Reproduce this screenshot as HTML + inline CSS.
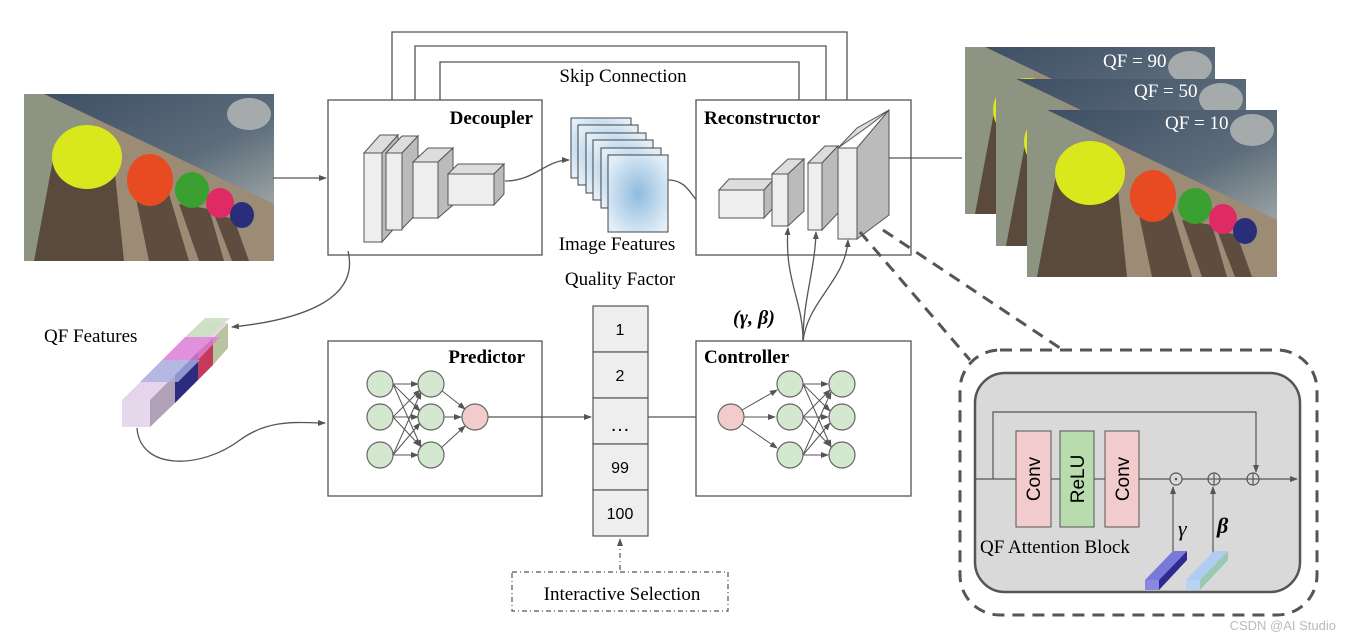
<!DOCTYPE html>
<html><head><meta charset="utf-8"><style>
html,body{margin:0;padding:0;background:#fff;}
svg{display:block;font-family:"Liberation Serif",serif;}
</style></head><body>
<svg width="1351" height="639" viewBox="0 0 1351 639" xmlns="http://www.w3.org/2000/svg">
<defs>
<marker id="ar" markerWidth="8" markerHeight="8" refX="7" refY="4" orient="auto" markerUnits="userSpaceOnUse"><path d="M0,1 L8,4 L0,7 z" fill="#555"/></marker>
<linearGradient id="sky" x1="0" y1="0" x2="1" y2="1"><stop offset="0" stop-color="#3e4f66"/><stop offset="0.6" stop-color="#5d6c7a"/><stop offset="1" stop-color="#9aa4a4"/></linearGradient>
<radialGradient id="fm" cx="0.5" cy="0.5" r="0.6"><stop offset="0" stop-color="#8fbbdd"/><stop offset="1" stop-color="#e2eef8"/></radialGradient>
<clipPath id="pc"><rect x="0" y="0" width="250" height="167"/></clipPath>
<g id="photo" clip-path="url(#pc)">
<rect x="0" y="0" width="250" height="167" fill="#8a8670"/>
<polygon points="20,0 250,0 250,110" fill="url(#sky)"/>
<ellipse cx="225" cy="20" rx="22" ry="16" fill="#b8bcb8" opacity="0.8"/>
<polygon points="0,0 20,0 250,110 250,167 0,167" fill="#9c8c76"/>
<polygon points="0,0 20,0 70,25 30,167 0,167" fill="#8e9482"/>
<polygon points="30,60 90,70 100,167 10,167" fill="#5a4a3c"/>
<polygon points="110,95 145,100 165,167 125,167" fill="#5e4c3e"/>
<polygon points="155,110 185,115 200,167 175,167" fill="#5e4c3e"/>
<polygon points="190,120 210,125 225,167 208,167" fill="#5e4c3e"/>
<ellipse cx="63" cy="63" rx="35" ry="32" fill="#d8e81c"/>
<ellipse cx="126" cy="86" rx="23" ry="26" fill="#e84a22"/>
<ellipse cx="168" cy="96" rx="17" ry="18" fill="#3aa030"/>
<ellipse cx="196" cy="109" rx="14" ry="15" fill="#e02a66"/>
<ellipse cx="218" cy="121" rx="12" ry="13" fill="#2a2e7a"/>
</g>
</defs>

<use href="#photo" x="24" y="94"/>
<line x1="273" y1="178" x2="326" y2="178" stroke="#555" stroke-width="1.3" marker-end="url(#ar)"/>

<g fill="none" stroke="#555" stroke-width="1.3">
<polyline points="392,100 392,32 847,32 847,100"/>
<polyline points="415,100 415,46 826,46 826,100"/>
<polyline points="440,100 440,62 799,62 799,100"/>
</g>
<text x="623" y="82" font-size="19" text-anchor="middle">Skip Connection</text>

<rect x="328" y="100" width="214" height="155" fill="#fff" stroke="#555" stroke-width="1.3"/>
<text x="533" y="124" font-size="19" font-weight="bold" text-anchor="end">Decoupler</text>
<g stroke="#555" stroke-width="1">
<polygon points="364,153 380,135 398,135 382,153" fill="#ddd"/><polygon points="382,153 398,135 398,224 382,242" fill="#bbb"/><rect x="364" y="153" width="18" height="89" fill="#eee"/>
<polygon points="386,153 402,136 418,136 402,153" fill="#ddd"/><polygon points="402,153 418,136 418,212 402,229" fill="#bbb"/><rect x="386" y="153" width="16" height="77" fill="#eee"/>
<polygon points="413,162 428,148 453,148 438,162" fill="#ddd"/><polygon points="438,162 453,148 453,205 438,218" fill="#bbb"/><rect x="413" y="162" width="25" height="56" fill="#eee"/>
<polygon points="448,174 458,164 504,164 494,174" fill="#ddd"/><polygon points="494,174 504,164 504,194 494,205" fill="#bbb"/><rect x="448" y="174" width="46" height="31" fill="#eee"/>
</g>
<path d="M505,181 C535,181 545,160 569,160" fill="none" stroke="#555" stroke-width="1.3" marker-end="url(#ar)"/>

<g stroke="#444" stroke-width="1">
<rect x="571" y="118" width="60" height="60" fill="url(#fm)"/>
<rect x="578" y="125" width="60" height="60" fill="url(#fm)"/>
<rect x="586" y="133" width="60" height="60" fill="url(#fm)"/>
<rect x="593" y="140" width="60" height="60" fill="url(#fm)"/>
<rect x="601" y="148" width="60" height="60" fill="url(#fm)"/>
<rect x="608" y="155" width="60" height="77" fill="url(#fm)"/>
</g>
<text x="617" y="250" font-size="19" text-anchor="middle">Image Features</text>
<text x="620" y="285" font-size="19" text-anchor="middle">Quality Factor</text>
<path d="M668,180 C695,180 690,210 717,210" fill="none" stroke="#555" stroke-width="1.3" marker-end="url(#ar)"/>

<rect x="696" y="100" width="215" height="155" fill="#fff" stroke="#555" stroke-width="1.3"/>
<text x="704" y="124" font-size="19" font-weight="bold">Reconstructor</text>
<g stroke="#555" stroke-width="1">
<polygon points="719,190 729,179 774,179 764,190" fill="#ddd"/><polygon points="764,190 774,179 774,207 764,218" fill="#bbb"/><rect x="719" y="190" width="45" height="28" fill="#eee"/>
<polygon points="772,174 788,159 804,159 788,174" fill="#ddd"/><polygon points="788,174 804,159 804,211 788,226" fill="#bbb"/><rect x="772" y="174" width="16" height="52" fill="#eee"/>
<polygon points="808,163 825,146 838,146 822,163" fill="#ddd"/><polygon points="822,163 838,146 838,213 822,230" fill="#bbb"/><rect x="808" y="163" width="14" height="67" fill="#eee"/>
<polygon points="838,148 870,125 889,110 857,128" fill="#ddd"/><polygon points="857,148 889,110 889,215 857,239" fill="#bbb"/><rect x="838" y="148" width="19" height="91" fill="#eee"/>
</g>
<line x1="889" y1="158" x2="962" y2="158" stroke="#555" stroke-width="1.3"/>

<use href="#photo" x="965" y="47"/>
<use href="#photo" x="996" y="79"/>
<use href="#photo" x="1027" y="110"/>
<text x="1103" y="67" font-size="19" fill="#fff">QF = 90</text>
<text x="1134" y="97" font-size="19" fill="#fff">QF = 50</text>
<text x="1165" y="129" font-size="19" fill="#fff">QF = 10</text>

<g stroke="#555" stroke-width="3" stroke-dasharray="12,8" fill="none">
<line x1="860" y1="232" x2="970" y2="360"/>
<line x1="883" y1="230" x2="1063" y2="350"/>
</g>

<text x="44" y="342" font-size="19">QF Features</text>
<g stroke="none">
<polygon points="122,400 200,323 228,323 150,400" fill="#e6d5ea"/>
<polygon points="150,400 175,375 175,403 150,427" fill="#b0a0b8"/>
<polygon points="175,375 198,352 198,380 175,403" fill="#2e2a80"/>
<polygon points="198,352 213,338 213,365 198,380" fill="#c43a5a"/>
<polygon points="213,338 228,323 228,348 213,365" fill="#b8c4a0"/>
<polygon points="140,382 162,360 200,360 178,382" fill="#a8b0e0" opacity="0.8"/>
<polygon points="162,360 185,337 220,337 198,360" fill="#e080d8" opacity="0.8"/>
<polygon points="185,337 205,318 230,318 210,337" fill="#cce0c0" opacity="0.9"/>
<rect x="122" y="400" width="28" height="27" fill="#e8d8ec"/>
</g>
<path d="M348,251 C360,300 300,320 232,327" fill="none" stroke="#555" stroke-width="1.3" marker-end="url(#ar)"/>
<path d="M137,428 C140,470 200,470 240,440 C270,418 300,423 325,423" fill="none" stroke="#555" stroke-width="1.3" marker-end="url(#ar)"/>

<rect x="328" y="341" width="214" height="155" fill="#fff" stroke="#555" stroke-width="1.3"/>
<text x="525" y="363" font-size="19" font-weight="bold" text-anchor="end">Predictor</text>
<g stroke="#555" stroke-width="1" marker-end="url(#ar)">
<line x1="393" y1="384" x2="418" y2="384"/><line x1="393" y1="384" x2="420" y2="411"/><line x1="393" y1="384" x2="421" y2="447"/>
<line x1="393" y1="417" x2="420" y2="390"/><line x1="393" y1="417" x2="418" y2="417"/><line x1="393" y1="417" x2="420" y2="446"/>
<line x1="393" y1="455" x2="421" y2="392"/><line x1="393" y1="455" x2="420" y2="423"/><line x1="393" y1="455" x2="418" y2="455"/>
<line x1="441" y1="390" x2="465" y2="409"/><line x1="444" y1="417" x2="461" y2="417"/><line x1="441" y1="448" x2="465" y2="426"/>
</g>
<g stroke="#666" stroke-width="1.2" fill="#d4e8cf">
<circle cx="380" cy="384" r="13"/><circle cx="380" cy="417" r="13"/><circle cx="380" cy="455" r="13"/>
<circle cx="431" cy="384" r="13"/><circle cx="431" cy="417" r="13"/><circle cx="431" cy="455" r="13"/>
<circle cx="475" cy="417" r="13" fill="#f2cccc"/>
</g>
<line x1="488" y1="417" x2="591" y2="417" stroke="#555" stroke-width="1.3" marker-end="url(#ar)"/>

<g stroke="#555" stroke-width="1.2" fill="#eee">
<rect x="593" y="306" width="55" height="46"/><rect x="593" y="352" width="55" height="46"/><rect x="593" y="398" width="55" height="46"/><rect x="593" y="444" width="55" height="46"/><rect x="593" y="490" width="55" height="46"/>
</g>
<g font-size="16" text-anchor="middle" font-family="Liberation Sans, sans-serif">
<text x="620" y="335">1</text><text x="620" y="381">2</text><text x="620" y="431" font-size="20">…</text><text x="620" y="473">99</text><text x="620" y="519">100</text>
</g>
<line x1="620" y1="570" x2="620" y2="539" stroke="#555" stroke-width="1.2" stroke-dasharray="5,3,1,3" marker-end="url(#ar)"/>
<rect x="512" y="572" width="216" height="39" fill="#fff" stroke="#555" stroke-width="1.2" stroke-dasharray="5,3,1,3"/>
<text x="622" y="600" font-size="19" text-anchor="middle">Interactive Selection</text>
<line x1="648" y1="417" x2="716" y2="417" stroke="#555" stroke-width="1.3" marker-end="url(#ar)"/>

<rect x="696" y="341" width="215" height="155" fill="#fff" stroke="#555" stroke-width="1.3"/>
<text x="704" y="363" font-size="19" font-weight="bold">Controller</text>
<g stroke="#555" stroke-width="1" marker-end="url(#ar)">
<line x1="742" y1="410" x2="777" y2="390"/><line x1="744" y1="417" x2="775" y2="417"/><line x1="742" y1="424" x2="777" y2="448"/>
<line x1="803" y1="384" x2="828" y2="384"/><line x1="803" y1="384" x2="830" y2="411"/><line x1="803" y1="384" x2="831" y2="447"/>
<line x1="803" y1="417" x2="830" y2="390"/><line x1="803" y1="417" x2="828" y2="417"/><line x1="803" y1="417" x2="830" y2="446"/>
<line x1="803" y1="455" x2="831" y2="392"/><line x1="803" y1="455" x2="830" y2="423"/><line x1="803" y1="455" x2="828" y2="455"/>
</g>
<g stroke="#666" stroke-width="1.2" fill="#d4e8cf">
<circle cx="731" cy="417" r="13" fill="#f2cccc"/>
<circle cx="790" cy="384" r="13"/><circle cx="790" cy="417" r="13"/><circle cx="790" cy="455" r="13"/>
<circle cx="842" cy="384" r="13"/><circle cx="842" cy="417" r="13"/><circle cx="842" cy="455" r="13"/>
</g>
<text x="733" y="324" font-size="20" font-style="italic" font-weight="bold">(γ, β)</text>
<g fill="none" stroke="#555" stroke-width="1.3" marker-end="url(#ar)">
<path d="M803,341 C803,300 784,280 788,228"/>
<path d="M803,341 C803,300 815,270 816,232"/>
<path d="M803,341 C808,300 846,280 848,240"/>
</g>

<rect x="960" y="350" width="357" height="265" rx="40" fill="#fff" stroke="#555" stroke-width="3" stroke-dasharray="12,8"/>
<rect x="975" y="373" width="325" height="219" rx="30" fill="#d9d9d9" stroke="#555" stroke-width="2.5"/>
<g stroke="#555" stroke-width="1.2" fill="none">
<line x1="975" y1="479" x2="1016" y2="479"/>
<line x1="1051" y1="479" x2="1060" y2="479"/>
<line x1="1094" y1="479" x2="1105" y2="479"/>
<line x1="1139" y1="479" x2="1170" y2="479"/>
<line x1="1182" y1="479" x2="1208" y2="479"/>
<line x1="1220" y1="479" x2="1247" y2="479"/>
<line x1="1259" y1="479" x2="1297" y2="479" marker-end="url(#ar)"/>
<polyline points="993,479 993,412 1256,412 1256,472" marker-end="url(#ar)"/>
<circle cx="1176" cy="479" r="6"/><circle cx="1214" cy="479" r="6"/><circle cx="1253" cy="479" r="6"/>
<line x1="1208" y1="479" x2="1220" y2="479"/><line x1="1214" y1="473" x2="1214" y2="485"/>
<line x1="1247" y1="479" x2="1259" y2="479"/><line x1="1253" y1="473" x2="1253" y2="485"/>
<line x1="1173" y1="554" x2="1173" y2="487" marker-end="url(#ar)"/>
<line x1="1213" y1="554" x2="1213" y2="487" marker-end="url(#ar)"/>
</g>
<circle cx="1176" cy="479" r="1.3" fill="#555"/>
<rect x="1016" y="431" width="35" height="96" fill="#f2cccc" stroke="#555"/>
<rect x="1060" y="431" width="34" height="96" fill="#b9dcae" stroke="#555"/>
<rect x="1105" y="431" width="34" height="96" fill="#f2cccc" stroke="#555"/>
<g font-family="Liberation Sans, sans-serif" font-size="19" text-anchor="middle">
<text transform="translate(1040,479) rotate(-90)">Conv</text>
<text transform="translate(1084,479) rotate(-90)">ReLU</text>
<text transform="translate(1129,479) rotate(-90)">Conv</text>
</g>
<text x="980" y="553" font-size="19">QF Attention Block</text>
<text x="1178" y="536" font-size="22" font-style="italic">γ</text>
<text x="1217" y="533" font-size="22" font-style="italic" font-weight="bold">β</text>
<polygon points="1145,580 1173,551 1187,551 1159,580" fill="#7a78d8"/>
<polygon points="1159,580 1187,551 1187,560 1159,590" fill="#2e2a90"/>
<rect x="1145" y="580" width="14" height="10" fill="#8a88e0"/>
<polygon points="1186,580 1214,551 1228,551 1200,580" fill="#b0ccf0"/>
<polygon points="1200,580 1228,551 1228,560 1200,590" fill="#9ac8b0"/>
<rect x="1186" y="580" width="14" height="10" fill="#b8d4f4"/>
<text x="1336" y="630" font-family="Liberation Sans, sans-serif" font-size="13" fill="#bbb" text-anchor="end">CSDN @AI Studio</text>
</svg>
</body></html>
